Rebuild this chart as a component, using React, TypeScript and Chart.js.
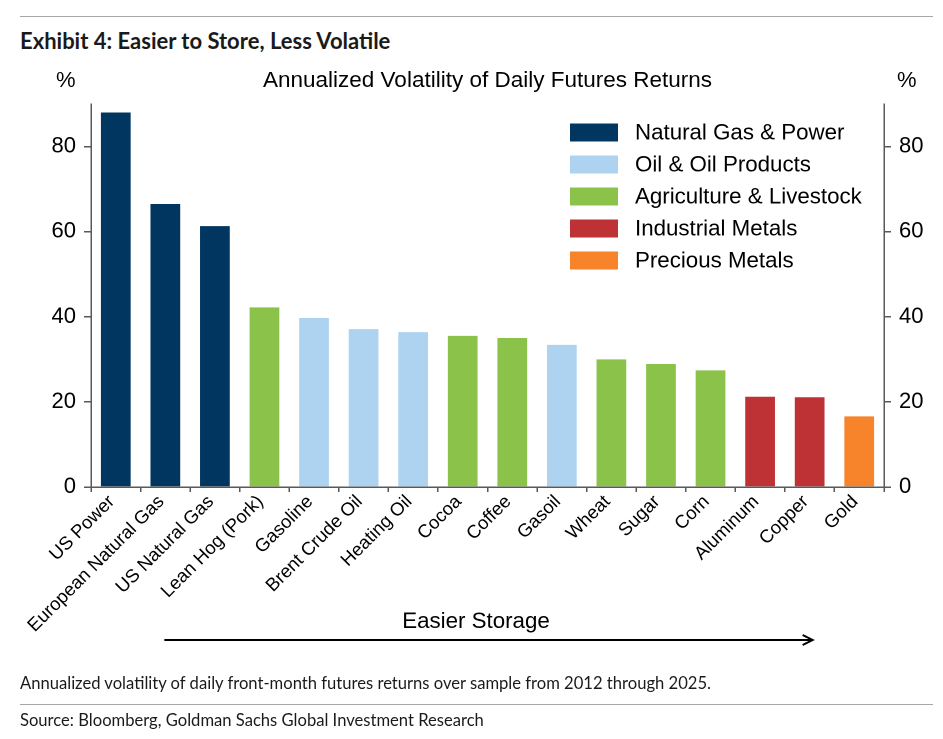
import React, { useEffect, useRef } from "react";
import { Chart, registerables } from "chart.js";

Chart.register(...registerables);

const categories = [
  "US Power",
  "European Natural Gas",
  "US Natural Gas",
  "Lean Hog (Pork)",
  "Gasoline",
  "Brent Crude Oil",
  "Heating Oil",
  "Cocoa",
  "Coffee",
  "Gasoil",
  "Wheat",
  "Sugar",
  "Corn",
  "Aluminum",
  "Copper",
  "Gold",
];

const volatility = [88.0, 66.5, 61.3, 42.2, 39.7, 37.1, 36.4, 35.5, 35.0, 33.4, 30.0, 28.9, 27.4, 21.2, 21.1, 16.6];

const sectorOf = [
  "Natural Gas & Power",
  "Natural Gas & Power",
  "Natural Gas & Power",
  "Agriculture & Livestock",
  "Oil & Oil Products",
  "Oil & Oil Products",
  "Oil & Oil Products",
  "Agriculture & Livestock",
  "Agriculture & Livestock",
  "Oil & Oil Products",
  "Agriculture & Livestock",
  "Agriculture & Livestock",
  "Agriculture & Livestock",
  "Industrial Metals",
  "Industrial Metals",
  "Precious Metals",
];

const sectors = [
  "Natural Gas & Power",
  "Oil & Oil Products",
  "Agriculture & Livestock",
  "Industrial Metals",
  "Precious Metals",
];

const sectorColors = ["#00365F", "#ADD3F0", "#8BC34A", "#BE3134", "#F7832B"];

const yTicks = [0, 20, 40, 60, 80];

const W = 943;
const H = 739;
const FONT = "'Liberation Sans', Arial, sans-serif";
const AXIS = "#595959";

const legendPlugin = {
  id: "insideLegend",
  afterDraw(chart: any) {
    const ctx = chart.ctx;
    ctx.save();
    ctx.font = `22.3px ${FONT}`;
    ctx.textBaseline = "middle";
    ctx.textAlign = "left";
    chart.data.datasets.forEach((ds: any, i: number) => {
      const cy = 132.5 + i * 32;
      ctx.fillStyle = ds.backgroundColor;
      ctx.fillRect(570, cy - 9, 48, 18);
      ctx.fillStyle = "#000";
      ctx.fillText(ds.label, 635, cy + 1);
    });
    ctx.restore();
  },
};

const arrowPlugin = {
  id: "storageArrow",
  afterDraw(chart: any) {
    const ctx = chart.ctx;
    const x = chart.scales.x;
    const x0 = x.getPixelForValue(1) - 1;
    const x1 = x.getPixelForValue(14) + 3;
    const y = 640;
    ctx.save();
    ctx.strokeStyle = "#000";
    ctx.lineWidth = 2;
    ctx.beginPath();
    ctx.moveTo(x0, y);
    ctx.lineTo(x1, y);
    ctx.stroke();
    ctx.beginPath();
    ctx.moveTo(x1 - 10, y - 5);
    ctx.lineTo(x1, y);
    ctx.lineTo(x1 - 10, y + 5);
    ctx.stroke();
    ctx.fillStyle = "#000";
    ctx.font = `22.3px ${FONT}`;
    ctx.textAlign = "center";
    ctx.textBaseline = "middle";
    ctx.fillText("Easier Storage", 476, 622);
    ctx.restore();
  },
};

export default function App() {
  const ref = useRef<HTMLCanvasElement | null>(null);

  useEffect(() => {
    document.body.style.margin = "0";
    const canvas = ref.current;
    if (!canvas) return;
    const datasets = sectors.map((s, k) => ({
      label: s,
      data: volatility.map((v, i) => (sectorOf[i] === s ? v : null)),
      backgroundColor: sectorColors[k],
      borderWidth: 0,
      grouped: false,
      barPercentage: 0.6,
      categoryPercentage: 1,
      yAxisID: "y",
    }));
    const tickCallback = (v: any) => (yTicks.includes(Number(v)) ? String(v) : "");
    const chart = new Chart(canvas, {
      type: "bar",
      data: { labels: categories, datasets },
      plugins: [legendPlugin, arrowPlugin],
      options: {
        animation: false,
        responsive: false,
        devicePixelRatio: 2,
        layout: { padding: { top: 104, left: 0, right: 0, bottom: 0 } },
        plugins: {
          legend: { display: false },
          tooltip: { enabled: false },
          title: { display: false },
        },
        scales: {
          x: {
            afterFit: (s: any) => {
              s.height = H - 487;
            },
            grid: { drawOnChartArea: false, drawTicks: true, tickLength: 5, color: AXIS, lineWidth: 1.5 },
            border: { display: true, color: AXIS, width: 1.5 },
            ticks: {
              autoSkip: false,
              maxRotation: 45,
              minRotation: 45,
              padding: -1,
              labelOffset: -4,
              color: "#000",
              font: { family: FONT, size: 18.5 },
            },
          },
          y: {
            position: "left",
            min: 0,
            max: 90,
            afterFit: (s: any) => {
              s.width = 91;
            },
            afterBuildTicks: (s: any) => {
              s.ticks = yTicks.map((v) => ({ value: v }));
            },
            grid: { drawOnChartArea: false, drawTicks: true, tickLength: 7, color: AXIS, lineWidth: 1.5 },
            border: { display: true, color: AXIS, width: 1.5 },
            ticks: { padding: 8, color: "#000", font: { family: FONT, size: 22 }, callback: tickCallback },
          },
          y2: {
            position: "right",
            min: 0,
            max: 90,
            afterFit: (s: any) => {
              s.width = W - 884;
            },
            afterBuildTicks: (s: any) => {
              s.ticks = yTicks.map((v) => ({ value: v }));
            },
            grid: { drawOnChartArea: false, drawTicks: true, tickLength: 7, color: AXIS, lineWidth: 1.5 },
            border: { display: true, color: AXIS, width: 1.5 },
            ticks: { padding: 8, color: "#000", font: { family: FONT, size: 22 }, callback: tickCallback },
          },
        },
      } as any,
    });
    return () => chart.destroy();
  }, []);

  const abs = (s: React.CSSProperties): React.CSSProperties => ({ position: "absolute", margin: 0, whiteSpace: "nowrap", ...s });

  return (
    <div style={{ position: "relative", width: W, height: H, background: "#fff", overflow: "hidden" }}>
      <div style={abs({ left: 20, top: 16, width: 913, height: 0, borderTop: "1.5px solid #a6a6a6" })} />
      <div
        style={abs({
          left: 20,
          top: 27,
          fontFamily: "Lato, sans-serif",
          fontWeight: 700,
          fontSize: 22,
          lineHeight: "28px",
          color: "#1a1a1a",
        })}
      >
        Exhibit 4: Easier to Store, Less Volatile
      </div>
      <canvas ref={ref} width={W} height={H} style={{ position: "absolute", left: 0, top: 0, width: W, height: H }} />
      <div style={abs({ left: 0, width: W, top: 66, textAlign: "center", fontFamily: FONT, fontSize: 22.5, lineHeight: "28px", color: "#000", paddingLeft: 32, boxSizing: "border-box" })}>
        Annualized Volatility of Daily Futures Returns
      </div>
      <div style={abs({ left: 56, top: 66, fontFamily: FONT, fontSize: 22, lineHeight: "28px", color: "#000" })}>%</div>
      <div style={abs({ left: 897, top: 66, fontFamily: FONT, fontSize: 22, lineHeight: "28px", color: "#000" })}>%</div>
      <div style={abs({ left: 20, top: 672, fontFamily: "Lato, sans-serif", fontSize: 16.6, lineHeight: "22px", color: "#1a1a1a" })}>
        Annualized volatility of daily front-month futures returns over sample from 2012 through 2025.
      </div>
      <div style={abs({ left: 20, top: 704, width: 913, height: 0, borderTop: "1.5px solid #a6a6a6" })} />
      <div style={abs({ left: 20, top: 709, fontFamily: "Lato, sans-serif", fontSize: 16.6, lineHeight: "22px", color: "#1a1a1a" })}>
        Source: Bloomberg, Goldman Sachs Global Investment Research
      </div>
    </div>
  );
}
